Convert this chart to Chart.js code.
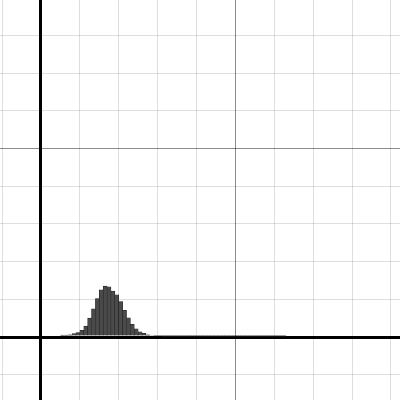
<!DOCTYPE html>
<html>
<head>
<style>
  body { margin: 0; background: #fff; }
  canvas { display: block; }
</style>
<script src="https://cdn.jsdelivr.net/npm/chart.js@4"></script>
</head>
<body>
<canvas id="myChart" width="400" height="400"></canvas>
<script>
// bar heights, one per 0.1 step starting at x = 0
let barHeights = [0.05, 0.05, 0.06, 0.09, 0.12, 0.18, 0.29, 0.5, 0.75, 1.02,
    1.25, 1.35, 1.33, 1.22, 1.12, 0.94, 0.71, 0.51, 0.34, 0.22,
    0.14, 0.10, 0.06, 0.04, 0.03, 0.03, 0.02, 0.02, 0.02, 0.02,
    0.02, 0.02, 0.02, 0.02, 0.02, 0.02, 0.02, 0.02, 0.02, 0.02,
    0.02, 0.02, 0.02, 0.02, 0.02, 0.02, 0.02, 0.02, 0.02, 0.02,
    0.02, 0.02, 0.02, 0.02, 0.02, 0.02, 0.02, 0.02];
let barStep = 0.1;

let points = [];
for (let i = 0; i < barHeights.length; i++) {
    points.push({ x: i * barStep + barStep / 2, y: barHeights[i] });
}

function gridColor(ctx) {
    if (!ctx.tick) return 'rgba(0,0,0,0.13)';
    let v = ctx.tick.value;
    if (Math.abs(v) < 1e-9) return '#000';
    if (Math.abs(v % 5) < 1e-9) return 'rgba(0,0,0,0.45)';
    return 'rgba(0,0,0,0.13)';
}
function gridWidth(ctx) {
    if (!ctx.tick) return 1;
    if (Math.abs(ctx.tick.value) < 1e-9) return 3;
    return 1;
}

function axis(min, max) {
    return {
        type: 'linear',
        min: min,
        max: max,
        border: { display: false },
        ticks: { display: false, stepSize: 1, includeBounds: false },
        grid: { color: gridColor, lineWidth: gridWidth, drawTicks: false }
    };
}

const ctx = document.getElementById('myChart').getContext('2d');
new Chart(ctx, {
    type: 'bar',
    data: {
        datasets: [{
            data: points,
            backgroundColor: '#4a4a4a',
            borderColor: '#222',
            borderWidth: 0.6,
            barPercentage: 1,
            categoryPercentage: 1
        }]
    },
    options: {
        responsive: false,
        animation: false,
        layout: { padding: 0 },
        plugins: { legend: { display: false }, tooltip: { enabled: false } },
        scales: {
            x: axis(-1.04, 8.22),
            y: axis(-1.67, 8.94)
        }
    }
});
</script>
</body>
</html>
